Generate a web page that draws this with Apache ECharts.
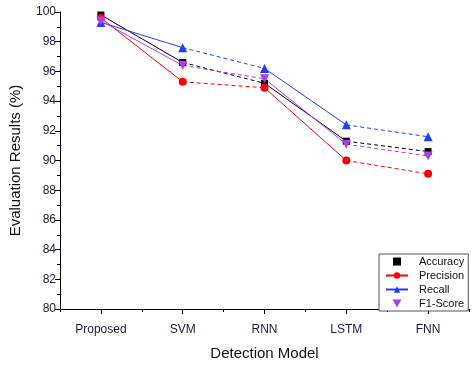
<!DOCTYPE html>
<html><head><meta charset="utf-8">
<script src="https://cdn.jsdelivr.net/npm/echarts@6/dist/echarts.min.js"></script>
<style>html,body{margin:0;padding:0;background:#fff}#c{width:474px;height:366px}</style>
</head><body><div id="c"></div>
<script>
const categories = ['Proposed', 'SVM', 'RNN', 'LSTM', 'FNN'];
const accuracy  = [99.8, 96.6, 95.2, 91.3, 90.6];
const precision = [99.6, 95.3, 94.9, 90.0, 89.1];
const recall    = [99.3, 97.6, 96.2, 92.4, 91.6];
const f1score   = [99.4, 96.4, 95.5, 91.1, 90.3];
const yTicks = [80, 82, 84, 86, 88, 90, 92, 94, 96, 98, 100];

const font = 'Liberation Sans, Arial, sans-serif';
const chart = echarts.init(document.getElementById('c'), null, {renderer: 'canvas'});

function solidPart(v) { return [[0, v[0]], [1, v[1]], '-', [2, v[2]], [3, v[3]], '-', [4, v[4]]]; }
function dashPart(v) { return [[1, v[1]], [2, v[2]], '-', [3, v[3]], [4, v[4]]]; }

const squarePath = 'path://M0,0 L10,0 L10,10 L0,10 Z';
const downTri = 'path://M0,0 L10,0 L5,9 Z';
const specs = [
  {name: 'Accuracy', data: accuracy, color: '#000000', symbol: 'rect', size: 7, legendIcon: squarePath},
  {name: 'Precision', data: precision, color: '#ff0000', symbol: 'circle', size: 8},
  {name: 'Recall', data: recall, color: '#1f3dff', symbol: 'triangle', size: 9},
  {name: 'F1-Score', data: f1score, color: '#b03cf0', symbol: downTri, size: 9, legendIcon: downTri}
];

const series = [];
specs.forEach(s => {
  series.push({
    name: s.name + '_d', type: 'line', data: dashPart(s.data), showSymbol: false, symbol: 'none',
    lineStyle: {color: s.color, width: 1, type: [4, 3]}, silent: true, animation: false, z: 2
  });
});
specs.forEach(s => {
  series.push({
    name: s.name, type: 'line', data: solidPart(s.data), symbol: s.symbol, symbolSize: s.size,
    showAllSymbol: true, itemStyle: {color: s.color}, lineStyle: {color: s.color, width: 1},
    animation: false, z: 3
  });
});

const legendData = specs.map(s => s.legendIcon ? {name: s.name, icon: s.legendIcon} : {name: s.name});

chart.setOption({
  animation: false,
  grid: {left: 59, right: 5, top: 12, bottom: 52},
  legend: {
    data: legendData, orient: 'vertical', left: 379, top: 254, width: 90,
    itemWidth: 22, itemHeight: 8, itemGap: 3, symbolKeepAspect: true,
    padding: [2, 4, 2, 6], borderColor: '#555', borderWidth: 1, backgroundColor: '#fff',
    textStyle: {fontFamily: font, fontSize: 11, color: '#111', padding: [0, 0, 0, 6]}
  },
  xAxis: [{
    type: 'category', data: categories, boundaryGap: true,
    axisLine: {lineStyle: {color: '#000', width: 1}},
    axisTick: {show: true, alignWithLabel: true, length: 5, lineStyle: {color: '#000'}},
    axisLabel: {fontFamily: font, fontSize: 12, color: '#1a1a33', margin: 15},
    splitLine: {show: false},
    name: 'Detection Model', nameLocation: 'middle', nameGap: 37,
    nameTextStyle: {fontFamily: font, fontSize: 15, color: '#111'}
  }, {
    type: 'category', data: categories, boundaryGap: true, position: 'bottom',
    axisLine: {show: false}, axisLabel: {show: false},
    axisTick: {show: true, length: 3, lineStyle: {color: '#000'}}, splitLine: {show: false}
  }],
  yAxis: {
    type: 'value', min: yTicks[0], max: yTicks[yTicks.length - 1], interval: 2,
    axisLine: {show: true, lineStyle: {color: '#000', width: 1}},
    axisTick: {show: true, length: 5, lineStyle: {color: '#000'}},
    minorTick: {show: true, splitNumber: 2, length: 3, lineStyle: {color: '#000'}},
    axisLabel: {fontFamily: font, fontSize: 12, color: '#1a1a33', margin: 4},
    splitLine: {show: false},
    name: 'Evaluation Results (%)', nameLocation: 'middle', nameGap: 37, nameRotate: 90,
    nameTextStyle: {fontFamily: font, fontSize: 15, color: '#111'}
  },
  series: series
});
</script></body></html>
